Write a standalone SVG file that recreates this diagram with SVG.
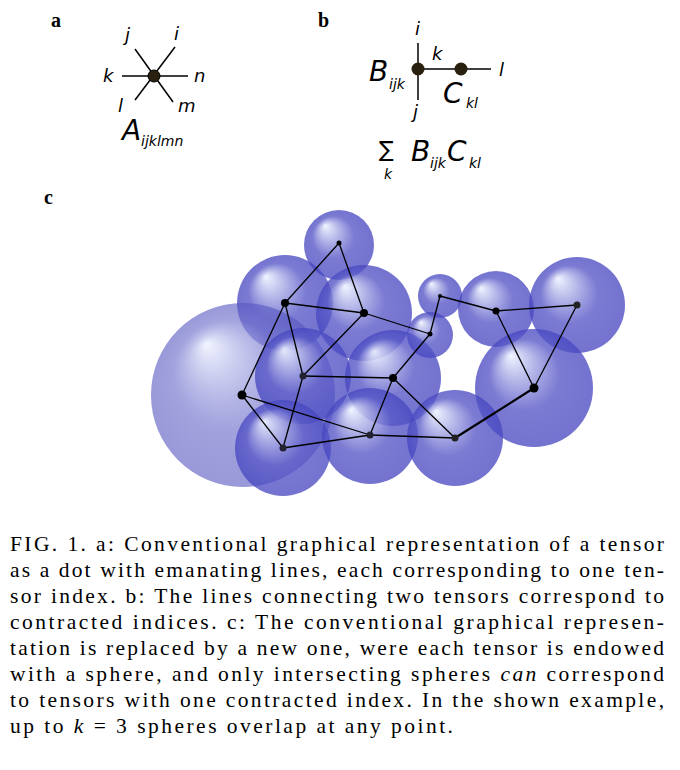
<svg xmlns="http://www.w3.org/2000/svg" width="680" height="770" viewBox="0 0 680 770">
<style>
.lbl{font-family:"DejaVu Sans",sans-serif;font-style:italic;font-size:18px;fill:#000}
.big{font-family:"DejaVu Sans",sans-serif;font-style:italic;font-size:28px;fill:#000}
.sub{font-family:"DejaVu Sans",sans-serif;font-style:italic;font-size:14px;fill:#000}
.pl{font-family:"Liberation Serif",serif;font-weight:bold;font-size:20px}
.cap{font-family:"Liberation Serif",serif;font-size:21.5px;fill:#000}
.ln{stroke:#000;stroke-width:1.5;fill:none}
.sp{fill:url(#g)}
.nd{fill:#000}
</style>
<defs>
<radialGradient id="g" cx="0.5" cy="0.5" r="0.5" fx="0.3" fy="0.22">
<stop offset="0" stop-color="#f0f4ff" stop-opacity="0.9"/>
<stop offset="0.6" stop-color="#5a5ac8" stop-opacity="0.8"/>
<stop offset="1" stop-color="#4545c0" stop-opacity="0.75"/>
</radialGradient>
<radialGradient id="g2" cx="0.5" cy="0.5" r="0.5" fx="0.3" fy="0.22">
<stop offset="0" stop-color="#f0f4ff" stop-opacity="0.9"/>
<stop offset="0.6" stop-color="#7070cc" stop-opacity="0.65"/>
<stop offset="1" stop-color="#5555c0" stop-opacity="0.6"/>
</radialGradient>
</defs>
<g id="panel-a">
<text class="pl" x="51" y="27">a</text>
<line class="ln" x1="122" y1="76" x2="188" y2="76"/>
<line class="ln" x1="135" y1="49" x2="173" y2="102"/>
<line class="ln" x1="175" y1="47" x2="135" y2="100"/>
<circle cx="154" cy="76" r="6" fill="#2a2010" stroke="#000"/>
<text class="lbl" x="125" y="41">j</text>
<text class="lbl" x="174" y="40">i</text>
<text class="lbl" x="103" y="82">k</text>
<text class="lbl" x="194" y="82">n</text>
<text class="lbl" x="118" y="112">l</text>
<text class="lbl" x="178" y="112">m</text>
<text class="big" x="122" y="140">A</text>
<text class="sub" x="141" y="146">ijklmn</text>
</g>
<g id="panel-b">
<text class="pl" x="318" y="27">b</text>
<line class="ln" x1="418" y1="43" x2="418" y2="100"/>
<line class="ln" x1="418" y1="69" x2="491" y2="69"/>
<circle cx="418" cy="69" r="6.5" fill="#2a2010"/>
<circle cx="461" cy="69" r="6.5" fill="#2a2010"/>
<text class="lbl" x="415" y="35">i</text>
<text class="lbl" x="432" y="60">k</text>
<text class="lbl" x="499" y="76">l</text>
<text class="lbl" x="413" y="118">j</text>
<text class="big" x="369" y="81">B</text>
<text class="sub" x="389" y="89">ijk</text>
<text class="big" x="443" y="103">C</text>
<text class="sub" x="466" y="108">kl</text>
<text x="379" y="157" font-family="DejaVu Sans,sans-serif" font-size="22">∑</text>
<text class="sub" x="384" y="179" font-size="13">k</text>
<text class="big" x="411" y="161">B</text>
<text class="sub" x="430" y="168">ijk</text>
<text class="big" x="447" y="161">C</text>
<text class="sub" x="469" y="168">kl</text>
</g>
<g id="panel-c">
<text class="pl" x="44" y="204">c</text>
<g id="spheres">
<circle class="sp" cx="339" cy="245" r="35"/>
<circle class="sp" cx="285" cy="303" r="48"/>
<circle cx="243" cy="395" r="92" fill="url(#g2)"/>
<circle class="sp" cx="364" cy="313" r="48"/>
<circle class="sp" cx="303" cy="376" r="48"/>
<circle class="sp" cx="393" cy="378" r="48"/>
<circle class="sp" cx="440" cy="296" r="22"/>
<circle class="sp" cx="430" cy="335" r="23"/>
<circle class="sp" cx="496" cy="309" r="38"/>
<circle class="sp" cx="577" cy="305" r="48"/>
<circle class="sp" cx="534" cy="388" r="59"/>
<circle class="sp" cx="283" cy="448" r="48"/>
<circle class="sp" cx="370" cy="436" r="48"/>
<circle class="sp" cx="455" cy="438" r="48"/>
</g>
<g id="connectors" stroke="#000" stroke-width="1.3">
<line x1="339" y1="243" x2="285" y2="303"/>
<line x1="339" y1="243" x2="364" y2="313"/>
<line x1="285" y1="303" x2="364" y2="313"/>
<line x1="285" y1="303" x2="303" y2="376"/>
<line x1="285" y1="303" x2="242" y2="395"/>
<line x1="364" y1="313" x2="303" y2="376"/>
<line x1="364" y1="313" x2="430" y2="334"/>
<line x1="430" y1="334" x2="440" y2="296"/>
<line x1="430" y1="334" x2="393" y2="378"/>
<line x1="440" y1="296" x2="496" y2="311"/>
<line x1="496" y1="311" x2="577" y2="305"/>
<line x1="496" y1="311" x2="534" y2="388"/>
<line x1="577" y1="305" x2="534" y2="388"/>
<line x1="534" y1="388" x2="455" y2="438" stroke-width="2.2"/>
<line x1="393" y1="378" x2="455" y2="438"/>
<line x1="393" y1="378" x2="303" y2="376"/>
<line x1="393" y1="378" x2="370" y2="435"/>
<line x1="303" y1="376" x2="283" y2="448"/>
<line x1="242" y1="395" x2="283" y2="448"/>
<line x1="242" y1="395" x2="370" y2="435"/>
<line x1="283" y1="448" x2="370" y2="435"/>
<line x1="370" y1="435" x2="455" y2="438"/>
</g>
<g id="nodes" class="nd">
<circle cx="339" cy="243" r="2.5"/>
<circle cx="285" cy="303" r="4"/>
<circle cx="364" cy="313" r="4"/>
<circle cx="430" cy="334" r="2.5"/>
<circle cx="440" cy="296" r="2"/>
<circle cx="496" cy="311" r="3.5"/>
<circle cx="577" cy="305" r="3.5" fill="#222"/>
<circle cx="534" cy="388" r="4.5"/>
<circle cx="455" cy="438" r="3.5" fill="#222"/>
<circle cx="393" cy="378" r="4"/>
<circle cx="303" cy="376" r="3.5" fill="#223"/>
<circle cx="242" cy="395" r="4.5"/>
<circle cx="283" cy="448" r="3.5" fill="#223"/>
<circle cx="370" cy="435" r="3.5" fill="#223"/>
</g>
</g>
<g id="caption" class="cap">
<text x="10" y="551" textLength="654" lengthAdjust="spacing">FIG. 1. a: Conventional graphical representation of a tensor</text>
<text x="10" y="577" textLength="654" lengthAdjust="spacing">as a dot with emanating lines, each corresponding to one ten-</text>
<text x="10" y="603" textLength="654" lengthAdjust="spacing">sor index. b: The lines connecting two tensors correspond to</text>
<text x="10" y="629" textLength="654" lengthAdjust="spacing">contracted indices. c: The conventional graphical represen-</text>
<text x="10" y="655" textLength="654" lengthAdjust="spacing">tation is replaced by a new one, were each tensor is endowed</text>
<text x="10" y="681" textLength="654" lengthAdjust="spacing">with a sphere, and only intersecting spheres <tspan font-style="italic">can</tspan> correspond</text>
<text x="10" y="707" textLength="654" lengthAdjust="spacing">to tensors with one contracted index. In the shown example,</text>
<text x="10" y="733" textLength="443" lengthAdjust="spacing">up to <tspan font-style="italic">k</tspan> = 3 spheres overlap at any point.</text>
</g>
</svg>
